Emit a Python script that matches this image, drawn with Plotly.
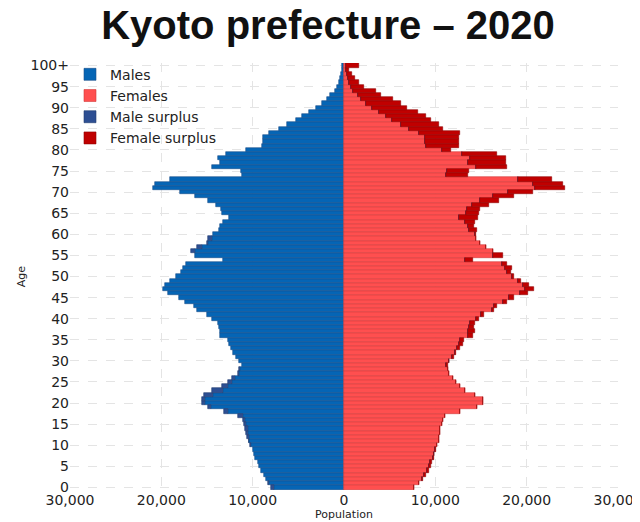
import plotly.graph_objects as go

ages = list(range(101))
age_labels = [str(a) for a in range(100)] + ["100+"]

males = [8000, 8350, 8500, 8750, 9100, 9350, 9450, 9700, 9900, 10000,
         10300, 10450, 10600, 10700, 10800, 10900, 11100, 11650, 13100, 14900,
         15500, 15500, 15350, 14500, 13350, 12700, 12250, 11600, 11450, 11150,
         11450, 11800, 12200, 12350, 12550, 12700, 13550, 13600, 13700, 13800,
         14500, 15050, 16150, 16450, 17400, 18050, 19250, 19850, 19600, 19050,
         18350, 17900, 17600, 17250, 13250, 16300, 16700, 16150, 15050, 14900,
         14350, 13650, 13600, 13200, 12600, 13400, 13450, 14000, 14900, 16350,
         17950, 20900, 20700, 19050, 11150, 11250, 14500, 13600, 13800, 12950,
         10700, 9000, 8900, 8850, 8250, 7100, 6200, 5300, 4550, 3850,
         3100, 2450, 1850, 1500, 1000, 750, 600, 400, 300, 200, 200]

females = [7700, 8200, 8650, 9000, 9350, 9500, 9650, 9800, 9900, 10050,
           10200, 10350, 10450, 10500, 10550, 10700, 10850, 11100, 12700, 14600,
           15200, 15200, 14300, 13200, 12650, 12300, 11900, 11500, 11400, 11350,
           11500, 12050, 12300, 12650, 13000, 13100, 14100, 14300, 14250, 14300,
           14800, 15300, 16400, 16800, 17900, 18600, 20100, 20800, 20300, 19400,
           18600, 18300, 18400, 17900, 14100, 17450, 16300, 15500, 14900, 14450,
           14450, 14550, 14200, 14300, 14700, 14800, 14900, 15900, 17000, 18600,
           20700, 24200, 24000, 22800, 13550, 13700, 17900, 17700, 17700, 16800,
           11750, 12600, 12600, 12600, 12700, 10800, 10450, 9550, 9000, 8100,
           6850, 6200, 5400, 4100, 3500, 2150, 1600, 1250, 900, 500, 1600]

male_common = [-min(m, f) for m, f in zip(males, females)]
male_surplus = [-max(m - f, 0) for m, f in zip(males, females)]
female_common = [min(m, f) for m, f in zip(males, females)]
female_surplus = [max(f - m, 0) for m, f in zip(males, females)]

fig = go.Figure()
def add(name, vals, color, edge):
    fig.add_trace(go.Bar(y=ages, x=vals, orientation="h", name=name,
                         marker=dict(color=color, line=dict(color=edge, width=0.6)),
                         width=1.0))
add("Males", male_common, "#0565b5", "#1b4f8a")
add("Females", female_common, "#ff4f4f", "#d23a3a")
add("Male surplus", male_surplus, "#2d4f93", "#223c70")
add("Female surplus", female_surplus, "#c00000", "#8e0000")

xt = [-30000, -20000, -10000, 0, 10000, 20000, 30000]
fig.update_layout(
    width=640, height=522, barmode="relative", bargap=0,
    plot_bgcolor="white", paper_bgcolor="white",
    margin=dict(l=62, r=30, t=55, b=40, autoexpand=False),
    font=dict(family="DejaVu Sans", color="#222"),
    title=dict(text="<b>Kyoto prefecture – 2020</b>", x=0.5, xanchor="center",
               y=0.995, yanchor="top", automargin=False,
               font=dict(size=40, family="Liberation Sans", color="#111")),
    legend=dict(x=0.0, y=1.01, xanchor="left", yanchor="top", bgcolor="rgba(0,0,0,0)",
                font=dict(size=14), traceorder="normal", itemwidth=30, tracegroupgap=0),
    showlegend=True,
)
fig.update_xaxes(range=[-30000, 30000], tickvals=xt, automargin=False,
                 ticktext=["30,000", "20,000", "10,000", "0", "10,000", "20,000", "30,000"],
                 tickfont=dict(size=14), showgrid=True, gridcolor="#e4e4e4", griddash="dash",
                 zeroline=False, title=dict(text="Population", font=dict(size=11), standoff=2))
fig.update_yaxes(range=[-0.6, 100.6], tickvals=list(range(0, 101, 5)), automargin=False,
                 ticktext=[age_labels[i] for i in range(0, 101, 5)],
                 tickfont=dict(size=14), showgrid=True, gridcolor="#e4e4e4", griddash="dash",
                 zeroline=False, title=dict(text="Age", font=dict(size=11), standoff=2))
fig.write_html("out.html")
